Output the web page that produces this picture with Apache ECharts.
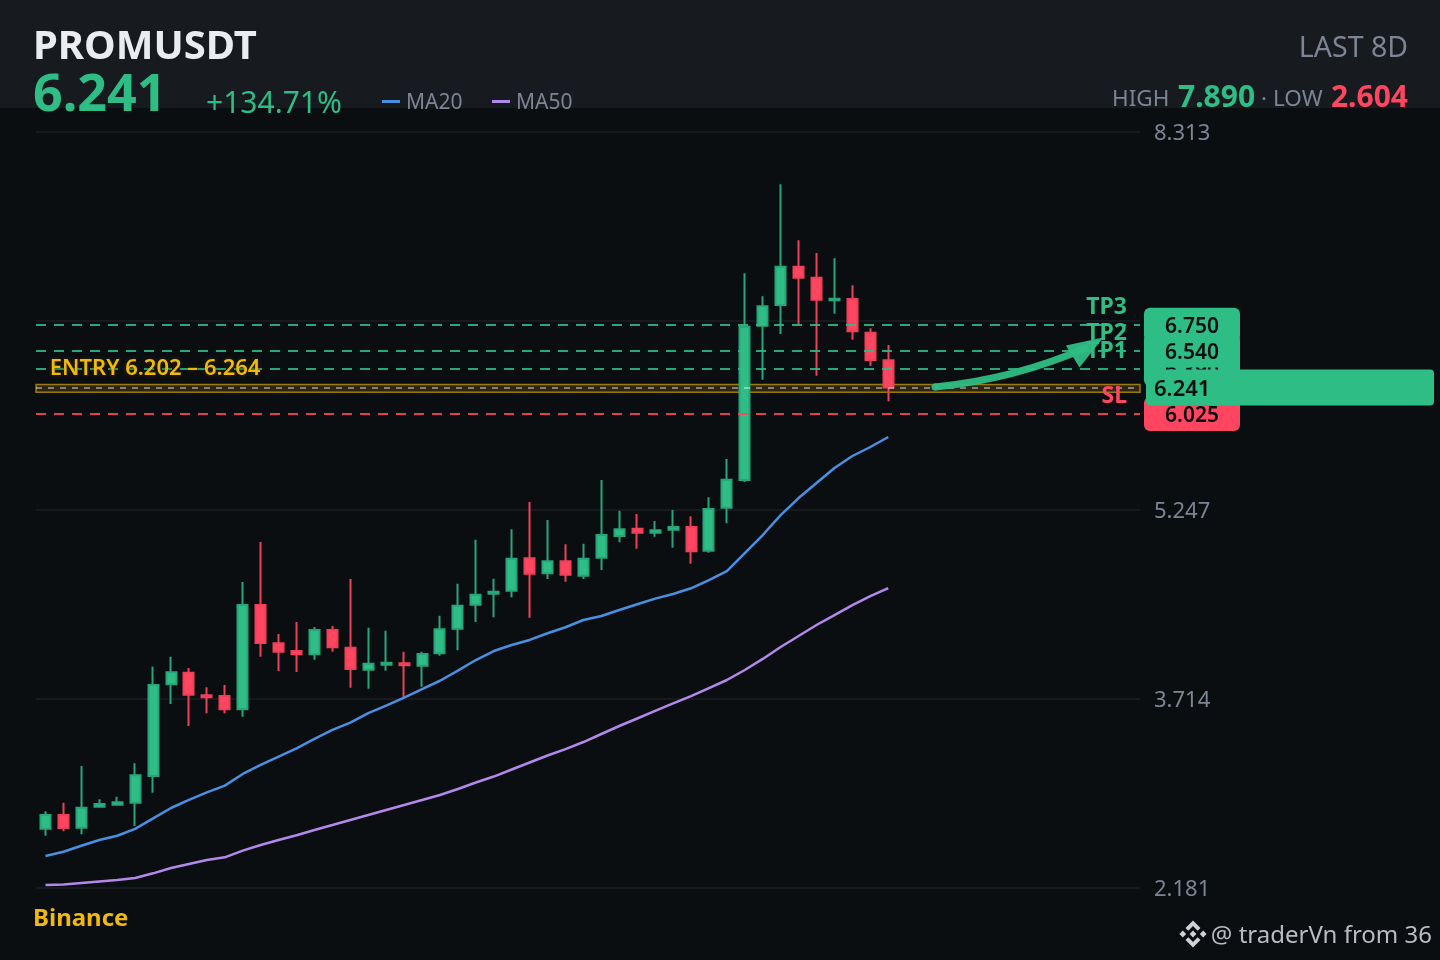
<!DOCTYPE html>
<html><head><meta charset="utf-8">
<style>html,body{margin:0;padding:0;background:#0b0e11}#c{width:1440px;height:960px}</style>
<script src="https://cdn.jsdelivr.net/npm/echarts@6/dist/echarts.min.js"></script>
</head><body><div id="c"></div>
<script>
const symbol = "PROMUSDT";
const opens  = [2.662,2.773,2.670,2.841,2.857,2.873,3.090,3.833,3.927,3.744,3.738,3.630,4.476,4.166,4.103,4.077,4.274,4.130,3.952,3.992,4.004,3.984,4.085,4.284,4.479,4.568,4.592,4.855,4.734,4.831,4.714,4.860,5.036,5.095,5.063,5.087,5.109,4.917,5.266,5.490,6.742,6.910,7.220,7.131,6.948,6.958,6.685,6.461];
const closes = [2.773,2.668,2.832,2.862,2.876,3.095,3.828,3.931,3.749,3.728,3.630,4.476,4.168,4.098,4.077,4.274,4.133,3.957,4.000,4.008,3.987,4.079,4.279,4.471,4.560,4.584,4.852,4.730,4.831,4.722,4.852,5.044,5.090,5.063,5.082,5.109,4.912,5.255,5.493,6.734,6.899,7.220,7.131,6.953,6.961,6.696,6.464,6.241];
const lows   = [2.605,2.641,2.617,2.832,2.849,2.684,2.954,3.674,3.495,3.598,3.598,3.570,4.057,3.941,3.933,4.033,4.098,3.806,3.798,3.944,3.728,3.814,4.065,4.109,4.339,4.377,4.539,4.373,4.687,4.666,4.687,4.760,4.985,4.933,5.030,4.941,4.811,4.901,5.139,5.474,6.304,6.675,6.739,6.336,6.839,6.628,6.415,6.129];
const highs  = [2.803,2.873,3.171,2.900,2.922,3.192,3.976,4.057,3.965,3.809,3.828,4.663,4.987,4.241,4.339,4.298,4.306,4.687,4.292,4.268,4.098,4.098,4.390,4.649,5.006,4.690,5.090,5.312,5.166,4.969,4.974,5.490,5.241,5.215,5.158,5.247,5.196,5.350,5.661,7.167,6.980,7.889,7.435,7.332,7.289,7.070,6.721,6.585];
const ma20   = [2.441,2.475,2.524,2.570,2.605,2.660,2.746,2.830,2.895,2.957,3.011,3.106,3.179,3.246,3.314,3.390,3.463,3.522,3.600,3.660,3.725,3.795,3.862,3.944,4.030,4.103,4.152,4.193,4.247,4.296,4.355,4.387,4.436,4.482,4.528,4.566,4.612,4.679,4.752,4.898,5.044,5.206,5.344,5.466,5.588,5.685,5.758,5.839];
const ma50   = [2.205,2.209,2.222,2.234,2.246,2.262,2.300,2.343,2.376,2.408,2.430,2.484,2.530,2.570,2.609,2.652,2.692,2.733,2.773,2.814,2.854,2.895,2.935,2.984,3.037,3.085,3.142,3.199,3.256,3.308,3.365,3.430,3.495,3.556,3.617,3.678,3.738,3.803,3.868,3.949,4.039,4.136,4.225,4.314,4.395,4.476,4.549,4.614];
const levelNames  = ["TP3","TP2","TP1","SL"];
const levelPrices = [6.750,6.540,6.390,6.025];
const lastPrice = 6.241;
const entryLow = 6.202, entryHigh = 6.264;
const changePct = "+134.71%";
const highText = "7.890", lowText = "2.604";
const arrowFrom = [49.61,6.245], arrowTo = [58.14,6.569];

const BG='#0b0e11', HEAD='#171a1f', GREEN='#2ebd85', RED='#ff4560', GOLD='#f0b90b', BLUE='#4a90e2', PURPLE='#b388eb', MUTED='#7d8494';
const FF='"Noto Sans"';
const X_END=61.04, X_START=-0.53;
const candles=opens.map((o,i)=>[i,o,closes[i],lows[i],highs[i]]);
const levelColor=n=>n==='SL'?RED:GREEN;
const lineColor=n=>n==='SL'?'rgba(255,69,96,0.88)':'rgba(46,189,133,0.88)';

function boxLabel(bg,price){return {show:true,position:'end',distance:4,
  formatter:'{b|'+price.toFixed(3)+'}',
  rich:{b:{width:96,height:30,lineHeight:30,padding:[4,0,0,0],align:'center',verticalAlign:'middle',backgroundColor:bg,borderRadius:6,color:BG,fontFamily:FF,fontWeight:600,fontSize:21}}};}

const chart=echarts.init(document.getElementById('c'),null,{renderer:'canvas'});
const T=(text,x,y,size,fill,weight,align)=>({type:'text',z:50,style:{text,x,y,fill,fontFamily:FF,fontSize:size,fontWeight:weight||400,textAlign:align||'left',textVerticalAlign:'middle'}});
const logoColor='#cfd2d7';
const logo=[[[0,-13.5],[7.5,-6],[4.7,-3.2],[0,-8],[-4.7,-3.2],[-7.5,-6]],[[0,13.5],[7.5,6],[4.7,3.2],[0,8],[-4.7,3.2],[-7.5,6]],[[0,-3.4],[3.4,0],[0,3.4],[-3.4,0]],[[-10.2,-3.4],[-6.8,0],[-10.2,3.4],[-13.6,0]],[[10.2,-3.4],[13.6,0],[10.2,3.4],[6.8,0]]];
const reversedIdx=levelPrices.map((_,i)=>i).reverse();
chart.setOption({
  animation:false,
  backgroundColor:BG,
  graphic:{elements:[
    {type:'rect',z:-10,silent:true,shape:{x:0,y:0,width:1440,height:108},style:{fill:HEAD}},
    T(symbol,33,48,40,'#eaecef',700),
    T(lastPrice.toFixed(3),33,96,52,GREEN,700),
    T(changePct,206,104,30,GREEN,400),
    {type:'rect',z:50,shape:{x:382,y:100,width:18,height:3},style:{fill:BLUE}},
    T('MA20',406,103,21,MUTED),
    {type:'rect',z:50,shape:{x:492,y:100,width:18,height:3},style:{fill:PURPLE}},
    T('MA50',516,103,21,MUTED),
    T('LAST 8D',1408,49,28.5,MUTED,400,'right'),
    T('HIGH',1112,100,22.5,MUTED),
    T(highText,1178,98,30,GREEN,700),
    T('·',1264,100,22,MUTED,400,'center'),
    T('LOW',1273,100,22.5,MUTED),
    T(lowText,1408,98,30,RED,700,'right'),
    T('Binance',33,919,24,GOLD,700),
    T('@ traderVn from 36',1432,936,24,'#b9bcc2',400,'right'),
    ...logo.map(p=>({type:'polygon',z:50,x:1193,y:934,shape:{points:p},style:{fill:logoColor}}))
  ]},
  grid:{left:36,top:132,width:1104,height:756},
  xAxis:{type:'value',min:X_START,max:X_END,show:false,splitLine:{show:false}},
  yAxis:{type:'value',position:'right',min:2.181,max:8.313,interval:1.533,
    axisLine:{show:false},axisTick:{show:false},
    splitLine:{show:true,lineStyle:{color:'#16191e',width:2}},
    axisLabel:{margin:14,formatter:v=>'{a|'+v.toFixed(3)+'}',showMinLabel:true,showMaxLabel:true,
      rich:{a:{color:MUTED,fontFamily:FF,fontSize:22,padding:[4,0,0,0]}}}},
  series:[
    {name:'zone',type:'line',data:[],z:1,silent:true,
      markArea:{silent:true,itemStyle:{color:'rgba(240,185,11,0.15)',borderColor:'rgba(240,185,11,0.6)',borderWidth:1.5},
        data:[[{coord:[X_START,entryHigh]},{coord:[X_END,entryLow]}]]}},
    {name:'candles',type:'candlestick',z:2,barWidth:10.5,clip:false,encode:{x:0,y:[1,2,3,4]},data:candles,
      itemStyle:{color:GREEN,color0:RED,borderColor:'#27a67a',borderColor0:'#ef4059',borderWidth:2}},
    {name:'MA20',type:'line',z:3,data:ma20.map((v,i)=>[i,v]),showSymbol:false,lineStyle:{color:BLUE,width:2.5}},
    {name:'MA50',type:'line',z:3,data:ma50.map((v,i)=>[i,v]),showSymbol:false,lineStyle:{color:PURPLE,width:2.5}},
    {name:'entry',type:'line',data:[],z:4,silent:true,
      markLine:{silent:true,symbol:'none',lineStyle:{width:0,color:'transparent'},
        label:{show:true,position:'insideStartTop',distance:5,formatter:'ENTRY '+entryLow.toFixed(3)+' – '+entryHigh.toFixed(3),color:GOLD,fontFamily:FF,fontWeight:600,fontSize:22,textShadowColor:'rgba(60,45,0,0.9)',textShadowBlur:4},
        data:[[{coord:[-0.04,entryHigh]},{coord:[X_END,entryHigh]}]]}},
    {name:'levels',type:'line',data:[],z:5,silent:true,
      markLine:{silent:true,symbol:'none',
        data:reversedIdx.map(i=>[
          {coord:[X_START,levelPrices[i]],lineStyle:{color:lineColor(levelNames[i]),type:[10,8],width:2},label:boxLabel(levelColor(levelNames[i]),levelPrices[i])},
          {coord:[X_END,levelPrices[i]]}])}},
    {name:'tags',type:'line',data:[],z:6,silent:true,
      markLine:{silent:true,symbol:'none',
        data:levelPrices.map((p,i)=>[
          {coord:[X_START,p],lineStyle:{width:0,color:'transparent'},
           label:{show:true,position:'insideEndTop',distance:6,formatter:levelNames[i],color:levelColor(levelNames[i]),fontFamily:FF,fontWeight:700,fontSize:23}},
          {coord:[60.65,p]}])}},
    {name:'last',type:'line',data:[],z:7,silent:true,
      markLine:{silent:true,symbol:'none',
        data:[[{coord:[X_START,lastPrice],lineStyle:{color:'rgba(255,255,255,0.55)',type:[6,6],width:1.5},
           label:{show:true,position:'end',distance:6,formatter:'{b|'+lastPrice.toFixed(3)+'}',
             rich:{b:{width:280,height:32,lineHeight:32,padding:[4,0,0,8],align:'left',backgroundColor:GREEN,borderRadius:4,color:BG,fontFamily:FF,fontWeight:600,fontSize:22}}}},
          {coord:[X_END,lastPrice]}]]}},
    {name:'arrowBody',type:'lines',coordinateSystem:'cartesian2d',z:8,silent:true,symbol:['circle','none'],symbolSize:7,
      lineStyle:{color:GREEN,width:7,curveness:-0.08,opacity:0.95},
      data:[{coords:[arrowFrom,arrowTo]}]},
    {name:'arrowHead',type:'scatter',z:8,silent:true,symbol:'triangle',symbolSize:[26,36],symbolRotate:-58.3,
      itemStyle:{color:GREEN,opacity:0.95},data:[arrowTo]}
  ]
});
</script></body></html>
